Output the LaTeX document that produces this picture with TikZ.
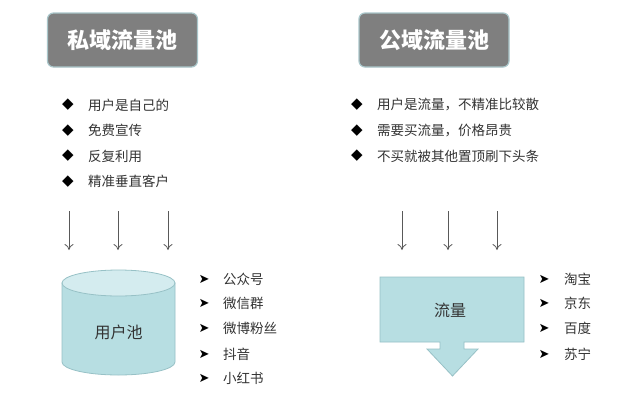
\documentclass[tikz,border=0pt]{standalone}
\usepackage{fontspec}
\setmainfont{Noto Sans CJK SC}
\newfontfamily\symfont{DejaVu Sans}
\usetikzlibrary{arrows.meta}
\definecolor{titlegray}{HTML}{7F7F7F}
\definecolor{titleedge}{HTML}{A9C6CA}
\definecolor{teal}{HTML}{B7DEE2}
\definecolor{tealtop}{HTML}{D4ECEF}
\definecolor{tealedge}{HTML}{97C1C6}
\definecolor{txt}{HTML}{333333}
\definecolor{arrowgray}{HTML}{595959}
\tikzset{
  titlebox/.style={draw=titleedge, line width=1.2pt, fill=titlegray, rounded corners=6pt,
    minimum width=150pt, minimum height=54pt, text=white, font=\fontsize{22}{24}\selectfont\bfseries},
  item/.style={anchor=west, inner sep=0pt, text=txt, font=\fontsize{13.5}{15}\selectfont},
  diam/.style={anchor=center, inner sep=0pt, text=black, font=\symfont\fontsize{15}{16}\selectfont},
  chev/.style={anchor=center, inner sep=0pt, text=black, font=\symfont\fontsize{13}{14}\selectfont},
  downarrow/.style={draw=arrowgray, line width=0.8pt, -{To[length=6pt,width=9pt]}},
  biglabel/.style={text=txt, font=\fontsize{16}{18}\selectfont},
}
\begin{document}
\begin{tikzpicture}[x=1pt,y=-1pt]
\useasboundingbox (0,0) rectangle (644,402);
\fill[white] (0,0) rectangle (644,402);
% titles
\node[titlebox] (t1) at (122.5,40) {私域流量池};
\node[titlebox] (t2) at (434,40) {公域流量池};
% left bullets
\foreach \y/\t [count=\i] in {105/用户是自己的,130.5/免费宣传,156/反复利用,181.5/精准垂直客户}{
  \node[diam] (ld\i) at (68,\y) {◆};
  \node[item] (lt\i) at (88,\y) {\t};
}
% right bullets
\foreach \y/\t [count=\i] in {105/用户是流量，不精准比较散,130.5/需要买流量，价格昂贵,156/不买就被其他置顶刷下头条}{
  \node[diam] (rd\i) at (357,\y) {◆};
  \node[item] (rt\i) at (377,\y) {\t};
}
% arrows
\foreach \x [count=\i] in {69,118,168}{
  \coordinate (la\i) at (\x,211);
  \coordinate (lb\i) at (\x,250);
  \draw[downarrow] (la\i) -- (lb\i);
}
\foreach \x [count=\i] in {402,448,497}{
  \coordinate (ra\i) at (\x,211);
  \coordinate (rb\i) at (\x,250);
  \draw[downarrow] (ra\i) -- (rb\i);
}
% cylinder
\filldraw[fill=teal, draw=tealedge, line width=0.8pt]
  (62,283) -- (62,362) arc[start angle=180, end angle=0, x radius=56.5, y radius=13] -- (175,283) -- cycle;
\filldraw[fill=tealtop, draw=tealedge, line width=0.8pt] (118.5,283) ellipse [x radius=56.5, y radius=13];
\node[biglabel] (pool) at (118.5,332) {用户池};
% flow shape
\filldraw[fill=teal, draw=tealedge, line width=0.8pt]
  (380,277) -- (524,277) -- (524,342) -- (464,342) -- (464,349) -- (478,349) -- (452.5,376)
  -- (427,349) -- (440,349) -- (440,342) -- (380,342) -- cycle;
\node[biglabel] (flow) at (450,310) {流量};
% left list
\foreach \y/\t [count=\i] in {279/公众号,303.5/微信群,328.5/微博粉丝,354/抖音,378.5/小红书}{
  \node[chev] (lc\i) at (204,\y) {➤};
  \node[item] (ll\i) at (223,\y) {\t};
}
% right list
\foreach \y/\t [count=\i] in {279/淘宝,303.5/京东,328.5/百度,354/苏宁}{
  \node[chev] (rc\i) at (544,\y) {➤};
  \node[item] (rl\i) at (564,\y) {\t};
}
\end{tikzpicture}
\end{document}
